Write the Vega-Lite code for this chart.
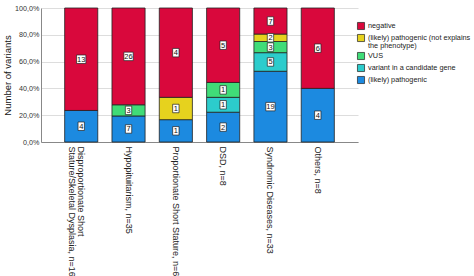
{
  "$schema": "https://vega.github.io/schema/vega-lite/v6.json",
  "width": 317,
  "height": 134,
  "autosize": {"type": "none"},
  "padding": {"left": 41, "top": 8, "right": 116, "bottom": 134},
  "background": "white",
  "config": {
    "font": "Liberation Sans",
    "view": {"stroke": null},
    "axisY": {
      "titleFontSize": 9.5,
      "titleFontWeight": "normal",
      "titleColor": "#111111",
      "titlePadding": 2,
      "labelFontSize": 7.2,
      "labelColor": "#333333",
      "labelPadding": 2,
      "labelOverlap": false,
      "labelFlush": false,
      "ticks": false,
      "domainColor": "#888888",
      "gridColor": "#d4d4d4",
      "gridWidth": 0.8
    }
  },
  "data": {
    "values": [
      {"category": "Disproportionate Short Stature/Skeletal Dysplasia, n=16", "type": "(likely) pathogenic", "order": 1, "count": 4},
      {"category": "Disproportionate Short Stature/Skeletal Dysplasia, n=16", "type": "negative", "order": 5, "count": 13},
      {"category": "Hypopituitarism, n=35", "type": "(likely) pathogenic", "order": 1, "count": 7},
      {"category": "Hypopituitarism, n=35", "type": "VUS", "order": 3, "count": 3},
      {"category": "Hypopituitarism, n=35", "type": "negative", "order": 5, "count": 26},
      {"category": "Proportionate Short Stature, n=6", "type": "(likely) pathogenic", "order": 1, "count": 1},
      {"category": "Proportionate Short Stature, n=6", "type": "(likely) pathogenic (not explains the phenotype)", "order": 4, "count": 1},
      {"category": "Proportionate Short Stature, n=6", "type": "negative", "order": 5, "count": 4},
      {"category": "DSD, n=8", "type": "(likely) pathogenic", "order": 1, "count": 2},
      {"category": "DSD, n=8", "type": "variant in a candidate gene", "order": 2, "count": 1},
      {"category": "DSD, n=8", "type": "VUS", "order": 3, "count": 1},
      {"category": "DSD, n=8", "type": "negative", "order": 5, "count": 5},
      {"category": "Syndromic Diseases, n=33", "type": "(likely) pathogenic", "order": 1, "count": 19},
      {"category": "Syndromic Diseases, n=33", "type": "variant in a candidate gene", "order": 2, "count": 5},
      {"category": "Syndromic Diseases, n=33", "type": "VUS", "order": 3, "count": 3},
      {"category": "Syndromic Diseases, n=33", "type": "(likely) pathogenic (not explains the phenotype)", "order": 4, "count": 2},
      {"category": "Syndromic Diseases, n=33", "type": "negative", "order": 5, "count": 7},
      {"category": "Others, n=8", "type": "(likely) pathogenic", "order": 1, "count": 4},
      {"category": "Others, n=8", "type": "negative", "order": 5, "count": 6}
    ]
  },
  "transform": [
    {"stack": "count", "groupby": ["category"], "sort": [{"field": "order", "order": "ascending"}], "offset": "normalize", "as": ["y0", "y1"]},
    {"calculate": "(datum.y0 + datum.y1) / 2", "as": "mid"}
  ],
  "encoding": {
    "x": {
      "field": "category",
      "type": "nominal",
      "sort": ["Disproportionate Short Stature/Skeletal Dysplasia, n=16", "Hypopituitarism, n=35", "Proportionate Short Stature, n=6", "DSD, n=8", "Syndromic Diseases, n=33", "Others, n=8"],
      "scale": {"paddingInner": 0.3, "paddingOuter": 0.5},
      "axis": {
        "title": null,
        "labelAngle": 90,
        "labelAlign": "left",
        "labelBaseline": "middle",
        "labelFontSize": 9,
        "labelColor": "#222222",
        "labelPadding": 4,
        "labelLimit": 0,
        "labelLineHeight": 9,
        "labelOverlap": false,
        "ticks": false,
        "domainColor": "#888888",
        "labelExpr": "datum.label == 'Disproportionate Short Stature/Skeletal Dysplasia, n=16' ? ['Disproportionate Short', 'Stature/Skeletal Dysplasia, n=16'] : datum.label"
      }
    }
  },
  "layer": [
    {
      "mark": {"type": "bar", "stroke": "#222222", "strokeWidth": 0.8},
      "encoding": {
        "y": {
          "field": "y0",
          "type": "quantitative",
          "scale": {"domain": [0, 1], "nice": false},
          "axis": {
            "title": "Number of variants",
            "values": [0, 0.2, 0.4, 0.6, 0.8, 1],
            "labelExpr": "replace(format(datum.value, '.1%'), '.', ',')"
          }
        },
        "y2": {"field": "y1"},
        "color": {
          "field": "type",
          "type": "nominal",
          "scale": {
            "domain": ["negative", "(likely) pathogenic (not explains the phenotype)", "VUS", "variant in a candidate gene", "(likely) pathogenic"],
            "range": ["#d9083c", "#e6d21e", "#40dc78", "#2ccccc", "#1c8ae0"]
          },
          "legend": {
            "title": null,
            "orient": "none",
            "legendX": 316,
            "legendY": 14,
            "symbolType": "square",
            "symbolSize": 50,
            "symbolStrokeColor": "#222222",
            "symbolStrokeWidth": 0.7,
            "symbolOpacity": 1,
            "labelFontSize": 7.3,
            "labelColor": "#222222",
            "labelOffset": 3,
            "labelLimit": 0,
            "rowPadding": 2,
            "labelExpr": "datum.label == '(likely) pathogenic (not explains the phenotype)' ? ['(likely) pathogenic (not explains', 'the phenotype)'] : datum.label",
            "encode": {
              "labels": {"update": {"lineHeight": {"value": 7.6}}}
            }
          }
        }
      }
    },
    {
      "mark": {"type": "point", "filled": true, "fill": "white", "stroke": "#222222", "strokeWidth": 0.7, "opacity": 1},
      "encoding": {
        "y": {
          "field": "mid",
          "type": "quantitative",
          "axis": {
            "title": "Number of variants",
            "values": [0, 0.2, 0.4, 0.6, 0.8, 1],
            "labelExpr": "replace(format(datum.value, '.1%'), '.', ',')"
          }
        },
        "size": {"value": 72},
        "shape": {
          "condition": {"test": "datum.count >= 10", "value": "M-1.1,-1H1.1V1H-1.1Z"},
          "value": "M-0.75,-1H0.75V1H-0.75Z"
        }
      }
    },
    {
      "mark": {"type": "text", "fontSize": 7.5, "color": "#111111", "baseline": "middle", "dy": 0.5},
      "encoding": {
        "y": {
          "field": "mid",
          "type": "quantitative",
          "axis": {
            "title": "Number of variants",
            "values": [0, 0.2, 0.4, 0.6, 0.8, 1],
            "labelExpr": "replace(format(datum.value, '.1%'), '.', ',')"
          }
        },
        "text": {"field": "count", "type": "quantitative"}
      }
    }
  ]
}
